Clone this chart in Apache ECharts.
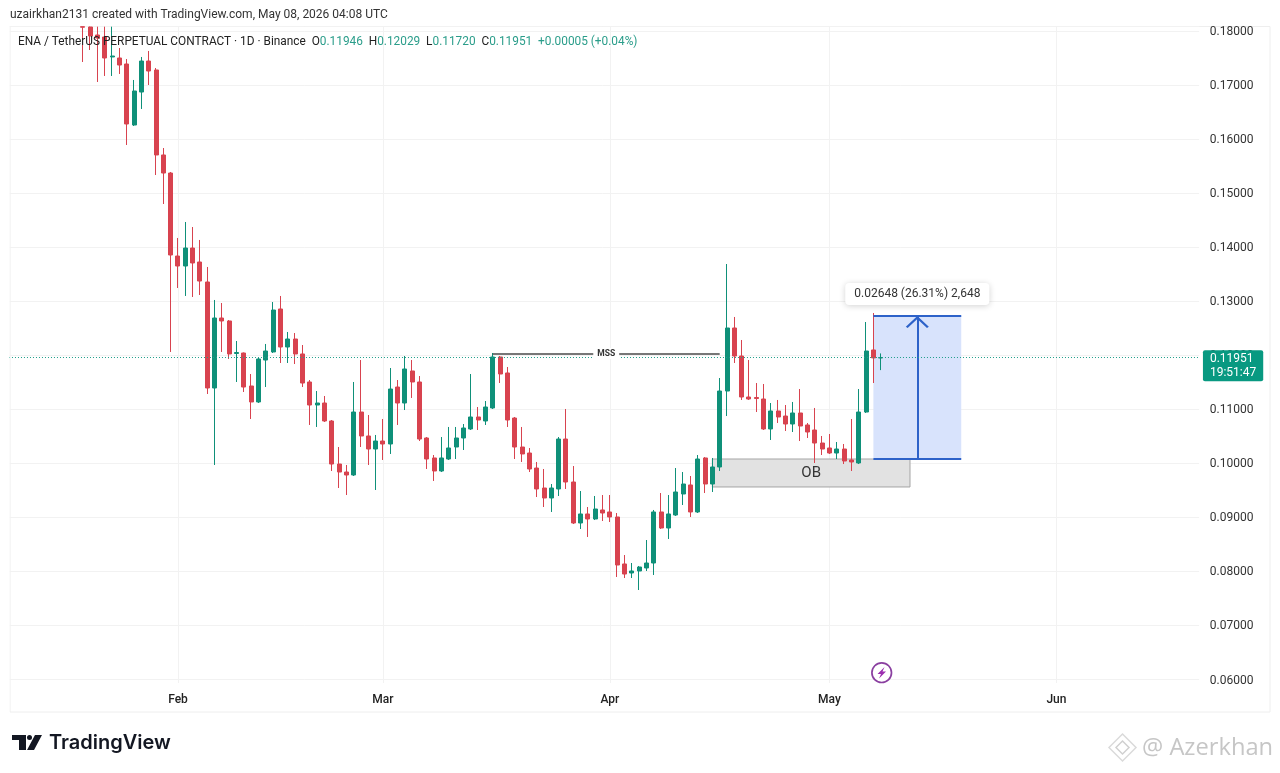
<!DOCTYPE html>
<html>
<head>
<meta charset="utf-8">
<style>html,body{margin:0;padding:0;background:#fff}#c{width:1280px;height:773px}</style>
<script src="https://cdn.jsdelivr.net/npm/echarts@6/dist/echarts.min.js"></script>
</head>
<body>
<div id="c"></div>
<script>
const firstAxisDay = Date.UTC(2026, 0, 9);
const axisDayCount = 163;
const firstCandleOffset = 10;
const monthLabels = {'2026-02-01':'Feb','2026-03-01':'Mar','2026-04-01':'Apr','2026-05-01':'May','2026-06-01':'Jun'};

const opens = [.18080,.18074,.17926,.17889,.17519,.17500,.17389,.16259,.16870,.17444,.17278,.15704,.15370,.13833,.13648,.13981,.13722,.13352,.11389,.12685,.12630,.12028,.12037,.11426,.11130,.11907,.12056,.12852,.12148,.12296,.12019,.11500,.11074,.11111,.10778,.09981,.09833,.09778,.10944,.10500,.10259,.10407,.10352,.11407,.11111,.11704,.11500,.10463,.10093,.09852,.10074,.10296,.10463,.10630,.10852,.10778,.11019,.11963,.11667,.10833,.10296,.10185,.09907,.09537,.09352,.09519,.10444,.09648,.08889,.09056,.08963,.09130,.09093,.09000,.08130,.07963,.08000,.08056,.08148,.09093,.08796,.09037,.09426,.09593,.09093,.10093,.09611,.09926,.11333,.12500,.11981,.11222,.11213,.11185,.10630,.10963,.10870,.10722,.10926,.10704,.10611,.10370,.10278,.10185,.10259,.10056,.10000,.10944,.12093,.11946];
const highs = [.18080,.18080,.18080,.18080,.18080,.17685,.17481,.17093,.17519,.17630,.17315,.15833,.15389,.14167,.14463,.14370,.14130,.13630,.13019,.12963,.12648,.12259,.12046,.11648,.11944,.12204,.12981,.13093,.12426,.12407,.12185,.11537,.11333,.11241,.10796,.10296,.09963,.11500,.11907,.10889,.10519,.10815,.11759,.11537,.11981,.11907,.11611,.10481,.10148,.10481,.10667,.10667,.10722,.11648,.11037,.11148,.12037,.11981,.11778,.10852,.10667,.10278,.10019,.09889,.09611,.10481,.11000,.09944,.09481,.09185,.09389,.09407,.09407,.09074,.08296,.08148,.08093,.08574,.09130,.09444,.09407,.09907,.09833,.09759,.10148,.10111,.10093,.11574,.13685,.12704,.12278,.11907,.11481,.11463,.11111,.11167,.11074,.11130,.11370,.10741,.11019,.10500,.10537,.10389,.10352,.10815,.11370,.12611,.12778,.12029];
const lows = [.17426,.17648,.17056,.17167,.17167,.17204,.15889,.16241,.16556,.17000,.15333,.14796,.12056,.13241,.13093,.13074,.13111,.11278,.09963,.12056,.11926,.11500,.11315,.10815,.11111,.11407,.12037,.11852,.11852,.11833,.11407,.10704,.10667,.10759,.09852,.09537,.09407,.09759,.10296,.09963,.09500,.10056,.10167,.10704,.10981,.11204,.10407,.09889,.09667,.09833,.10056,.10074,.10241,.10611,.10611,.10704,.11000,.11481,.10667,.10074,.10019,.09833,.09370,.09185,.09093,.09389,.09519,.08870,.08778,.08630,.08944,.08926,.08907,.07889,.07870,.07870,.07648,.08000,.07926,.08778,.08593,.09019,.09222,.09000,.09074,.09444,.09463,.09852,.10870,.11852,.11167,.11167,.10944,.10611,.10426,.10741,.10593,.10574,.10407,.10463,.10000,.10148,.10167,.10074,.09981,.09852,.09981,.10926,.11481,.11720];
const closes = [.18070,.17907,.17870,.17500,.17537,.17370,.16278,.16889,.17444,.17259,.15704,.15370,.13852,.13648,.13981,.13704,.13370,.11389,.12685,.12630,.12019,.12046,.11407,.11130,.11926,.12074,.12833,.12148,.12296,.12019,.11481,.11074,.11111,.10778,.09981,.09833,.09778,.10944,.10500,.10259,.10407,.10352,.11370,.11111,.11741,.11500,.10444,.10074,.09852,.10093,.10278,.10463,.10648,.10852,.10796,.11037,.11963,.11648,.10796,.10296,.10167,.09889,.09519,.09352,.09537,.10444,.09648,.08889,.09056,.08963,.09148,.09074,.09000,.08111,.07944,.08000,.08074,.08148,.09093,.08796,.09056,.09463,.09611,.09093,.10074,.09611,.09926,.11333,.12500,.11981,.11222,.11185,.11194,.10630,.10963,.10852,.10722,.10926,.10685,.10574,.10370,.10259,.10185,.10259,.10037,.10019,.10944,.12074,.11946,.11951];

const priceTicksMin = 0.06, priceTicksStep = 0.01, priceViewMax = 0.180833;
const lastPrice = 0.11951;
const legendTitle = 'ENA / TetherUS PERPETUAL CONTRACT · 1D · Binance';
const legendOHLC = [['O','0.11946'],['H','0.12029'],['L','0.11720'],['C','0.11951']];
const legendChange = '+0.00005 (+0.04%)';
const creditLine = 'uzairkhan2131 created with TradingView.com, May 08, 2026 04:08 UTC';

const mssLine = {from:'2026-03-16', to:'2026-04-16', price:0.12028, label:'MSS'};
const obZone = {from:'2026-04-15', to:'2026-05-12', top:0.10074, bottom:0.09556, label:'OB'};
const projection = {from:'2026-05-07', to:'2026-05-19', mid:'2026-05-13', base:0.10074, top:0.12722, headBase:0.12611, labelPrice:0.1313, label:'0.02648 (26.31%) 2,648'};

const iso = t => new Date(t).toISOString().slice(0,10);
const categories = [];
for (let i=0;i<axisDayCount;i++) categories.push(iso(firstAxisDay + i*864e5));
const candleRows = opens.map((o,i)=>[categories[firstCandleOffset+i], o, closes[i], lows[i], highs[i]]);

const RED='#d8434f', GREEN='#0f9079', BLUE='#2d62c9', GRID='#f2f2f2', TEAL='#089981';
const isMonth = (idx,val)=>monthLabels[val]!==undefined;
const chevron='path://M0,10 L10,0 L20,10 L18.4,11.2 L10,2.8 L1.6,11.2 Z';

const legendRich = {
  k:{fill:'#222',font:'11.85px Roboto'},
  v:{fill:'#2a9d8a',font:'11.85px Roboto'}
};
const legendText = '{k|'+legendTitle+'}' + legendOHLC.map(p=>'{k|  '+p[0]+'}{v|'+p[1]+'}').join('') + '{v|  '+legendChange+'}';

const chart = echarts.init(document.getElementById('c'),null,{renderer:'canvas'});
chart.setOption({
  animation:false,
  backgroundColor:'#fff',
  grid:{left:5.98,top:26.5,width:1193.16,height:652.5,containLabel:false},
  xAxis:{type:'category',data:categories,boundaryGap:true,
    axisLine:{show:false},
    axisTick:{show:true,length:4,alignWithLabel:true,interval:isMonth,lineStyle:{color:GRID}},
    splitLine:{show:true,alignWithLabel:true,interval:isMonth,lineStyle:{color:GRID,width:1}},
    axisLabel:{interval:isMonth,margin:15,color:'#222',fontSize:12,fontWeight:500,fontFamily:'Roboto',formatter:v=>monthLabels[v]||'',hideOverlap:false}
  },
  yAxis:{type:'value',position:'right',min:priceTicksMin,max:priceViewMax,interval:priceTicksStep,scale:true,
    axisLine:{show:false},axisTick:{show:false},
    splitLine:{show:true,lineStyle:{color:GRID,width:1}},
    axisLabel:{margin:10.7,showMaxLabel:false,
      rich:{p:{color:'#333',fontSize:12,fontFamily:'Roboto',padding:[3,0,0,0]}},
      formatter:v=>v>0.1805?'':'{p|'+v.toFixed(5)+'}'}
  },
  series:[
    {type:'line',data:[],silent:true,z:1,
      markArea:{silent:true,data:[
        [{xAxis:obZone.from,yAxis:obZone.top,name:obZone.label,
          itemStyle:{color:'#e2e2e2',borderColor:'#a5a5a5',borderWidth:1},
          label:{show:true,position:'inside',color:'#333',fontSize:15,fontFamily:'Roboto'}},
         {xAxis:obZone.to,yAxis:obZone.bottom}],
        [{xAxis:projection.from,yAxis:projection.top,
          itemStyle:{color:'#d8e3fc',borderWidth:0},label:{show:false}},
         {xAxis:projection.to,yAxis:projection.base}]
      ]}
    },
    {type:'candlestick',data:candleRows,encode:{x:0,y:[1,2,3,4]},barWidth:4.5,z:2,silent:true,
      itemStyle:{color:GREEN,color0:RED,borderColor:GREEN,borderColor0:RED,borderWidth:1}
    },
    {type:'line',data:[],silent:true,z:3,
      markLine:{silent:true,symbol:'none',animation:false,precision:6,
        data:[
          [{xAxis:mssLine.from,yAxis:mssLine.price,
            lineStyle:{color:'#4a4a4a',width:1.5,type:'solid'},
            label:{show:true,position:'middle',formatter:mssLine.label,color:'#333',fontSize:8.5,fontWeight:'bold',fontFamily:'Roboto',backgroundColor:'#fff',padding:[1,4],distance:0,verticalAlign:'middle'}},
           {xAxis:mssLine.to,yAxis:mssLine.price}],
          [{xAxis:projection.from,yAxis:projection.top,lineStyle:{color:BLUE,width:2,type:'solid'},label:{show:false}},
           {xAxis:projection.to,yAxis:projection.top}],
          [{xAxis:projection.from,yAxis:projection.base,lineStyle:{color:BLUE,width:2,type:'solid'},label:{show:false}},
           {xAxis:projection.to,yAxis:projection.base}],
          [{xAxis:projection.mid,yAxis:projection.base,lineStyle:{color:BLUE,width:2,type:'solid'},label:{show:false}},
           {xAxis:projection.mid,yAxis:projection.top}],
          [{xAxis:projection.mid,yAxis:projection.base,symbol:'none',lineStyle:{color:BLUE,width:2,type:'solid'},label:{show:false}},
           {xAxis:projection.mid,yAxis:projection.headBase,symbol:chevron,symbolSize:[23,12],itemStyle:{color:BLUE}}],
          {yAxis:lastPrice,lineStyle:{color:'#1f9f8a',width:1,type:[1,2]},
            label:{show:true,position:'end',distance:0,offset:[3.8,8],formatter:lastPrice.toFixed(5)+'\n19:51:47',color:'#fff',fontSize:12,lineHeight:14,fontFamily:'Roboto',backgroundColor:TEAL,padding:[2,7,1,7],borderRadius:2,align:'left'}}
        ]},
      markPoint:{silent:true,symbol:'circle',symbolSize:0,animation:false,
        data:[{coord:[projection.mid,projection.labelPrice],
          label:{show:true,position:'inside',formatter:projection.label,color:'#333',fontSize:12,fontFamily:'Roboto',backgroundColor:'#fff',padding:[5,9],borderRadius:4,shadowBlur:6,shadowColor:'rgba(0,0,0,0.18)',shadowOffsetY:1}}]
      }
    }
  ],
  graphic:[
    {type:'rect',z:-1,silent:true,shape:{x:10,y:26.5,width:1260,height:685.5},style:{fill:'none',stroke:'#eeeeee',lineWidth:1}},
    {type:'rect',z:9,silent:true,shape:{x:0,y:20,width:9.5,height:700},style:{fill:'#fff'}},
    {type:'text',z:10,x:10,y:15,style:{text:creditLine,fill:'#333',font:'12px Roboto',textVerticalAlign:'middle'}},
    {type:'text',z:10,x:18,y:42,style:{text:legendText,rich:legendRich,verticalAlign:'middle'}},
    {type:'circle',z:10,shape:{cx:881.7,cy:672.7,r:9.8},style:{fill:'#fff',stroke:'#8a3fa0',lineWidth:1.7}},
    {type:'polygon',z:11,shape:{points:[[884.5,667],[877.5,674],[881,674],[879,678.5],[886,671.5],[882.5,671.5]]},style:{fill:'#9c2fb0'}},
    {type:'polygon',z:10,shape:{points:[[12,735],[26,735],[26,750],[19,750],[19,740],[12,740]]},style:{fill:'#131722'}},
    {type:'circle',z:10,shape:{cx:29.5,cy:737.5,r:2.5},style:{fill:'#131722'}},
    {type:'polygon',z:10,shape:{points:[[35,735],[42,735],[34,750],[27,750]]},style:{fill:'#131722'}},
    {type:'text',z:10,x:49,y:743,style:{text:'TradingView',fill:'#131722',font:'600 20px Inter',textVerticalAlign:'middle'}},
    {type:'polygon',z:10,shape:{points:[[1122.5,734],[1136,747.5],[1122.5,761],[1109,747.5]]},style:{fill:'none',stroke:'#dadada',lineWidth:1.5}},
    {type:'polygon',z:10,shape:{points:[[1122.5,741],[1129,747.5],[1122.5,754],[1116,747.5]]},style:{fill:'none',stroke:'#d0d0d0',lineWidth:1.5}},
    {type:'text',z:10,x:1142,y:748,style:{text:'@ Azerkhan',fill:'#c6c6c6',font:'23.7px "Open Sans"',textVerticalAlign:'middle'}}
  ]
});
</script>
</body>
</html>
